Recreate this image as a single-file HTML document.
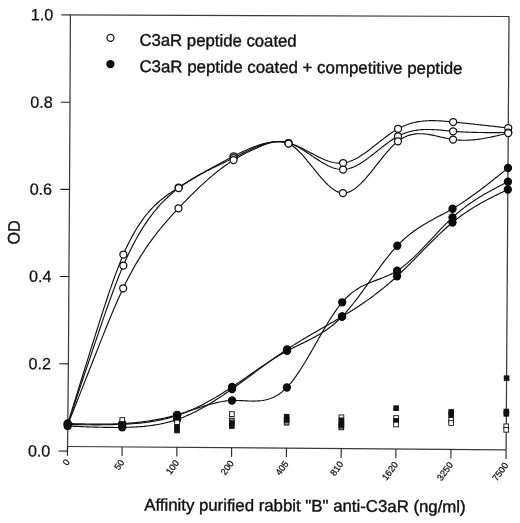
<!DOCTYPE html>
<html lang="en"><head><meta charset="utf-8"><title>OD vs affinity purified rabbit B anti-C3aR</title>
<style>html,body{margin:0;padding:0;background:#fff}body{width:520px;height:523px;overflow:hidden}</style></head>
<body>
<svg width="520" height="523" viewBox="0 0 520 523" style="display:block">
<rect width="520" height="523" fill="#fff"/>
<g id="axes">
<line x1="61.40" y1="14.87" x2="509.00" y2="16.50" stroke="#3a3a3a" stroke-width="1.25"/>
<polyline points="70.40,14.90 70.00,102.30 69.50,189.40 68.90,276.50 68.40,363.85 67.50,451.10" fill="none" stroke="#3a3a3a" stroke-width="1.25"/>
<line x1="509.00" y1="16.50" x2="506.10" y2="449.80" stroke="#3a3a3a" stroke-width="1.25"/>
<line x1="67.50" y1="446.50" x2="506.10" y2="449.80" stroke="#3a3a3a" stroke-width="1.25"/>
<line x1="60.80" y1="102.26" x2="70.00" y2="102.30" stroke="#222" stroke-width="1.1"/>
<line x1="60.30" y1="189.36" x2="69.50" y2="189.40" stroke="#222" stroke-width="1.1"/>
<line x1="59.70" y1="276.46" x2="68.90" y2="276.50" stroke="#222" stroke-width="1.1"/>
<line x1="59.20" y1="363.81" x2="68.40" y2="363.85" stroke="#222" stroke-width="1.1"/>
<line x1="58.30" y1="451.06" x2="67.50" y2="451.10" stroke="#222" stroke-width="1.1"/>
<line x1="67.50" y1="446.50" x2="67.44" y2="455.70" stroke="#222" stroke-width="1.1"/>
<line x1="122.10" y1="446.91" x2="122.04" y2="456.11" stroke="#222" stroke-width="1.1"/>
<line x1="176.90" y1="447.32" x2="176.84" y2="456.52" stroke="#222" stroke-width="1.1"/>
<line x1="231.65" y1="447.74" x2="231.59" y2="456.94" stroke="#222" stroke-width="1.1"/>
<line x1="286.45" y1="448.15" x2="286.39" y2="457.35" stroke="#222" stroke-width="1.1"/>
<line x1="341.20" y1="448.56" x2="341.14" y2="457.76" stroke="#222" stroke-width="1.1"/>
<line x1="395.90" y1="448.98" x2="395.84" y2="458.18" stroke="#222" stroke-width="1.1"/>
<line x1="450.95" y1="449.39" x2="450.89" y2="458.59" stroke="#222" stroke-width="1.1"/>
<line x1="506.10" y1="449.80" x2="506.04" y2="459.00" stroke="#222" stroke-width="1.1"/>
</g>
<g id="labels" style="font-family:'Liberation Sans',sans-serif">
<text x="53.20" y="20.40" font-size="16.3" text-anchor="end" fill="#111" stroke="#111" stroke-width="0.25" transform="rotate(0.35 53.20 20.40)" textLength="22.4" lengthAdjust="spacingAndGlyphs">1.0</text>
<text x="52.62" y="107.80" font-size="16.3" text-anchor="end" fill="#111" stroke="#111" stroke-width="0.25" transform="rotate(0.35 52.62 107.80)" textLength="22.4" lengthAdjust="spacingAndGlyphs">0.8</text>
<text x="52.03" y="194.90" font-size="16.3" text-anchor="end" fill="#111" stroke="#111" stroke-width="0.25" transform="rotate(0.35 52.03 194.90)" textLength="22.4" lengthAdjust="spacingAndGlyphs">0.6</text>
<text x="51.45" y="282.00" font-size="16.3" text-anchor="end" fill="#111" stroke="#111" stroke-width="0.25" transform="rotate(0.35 51.45 282.00)" textLength="22.4" lengthAdjust="spacingAndGlyphs">0.4</text>
<text x="50.86" y="369.35" font-size="16.3" text-anchor="end" fill="#111" stroke="#111" stroke-width="0.25" transform="rotate(0.35 50.86 369.35)" textLength="22.4" lengthAdjust="spacingAndGlyphs">0.2</text>
<text x="50.28" y="456.60" font-size="16.3" text-anchor="end" fill="#111" stroke="#111" stroke-width="0.25" transform="rotate(0.35 50.28 456.60)" textLength="22.4" lengthAdjust="spacingAndGlyphs">0.0</text>
<text x="70.20" y="462.10" font-size="9.2" text-anchor="end" fill="#111" stroke="#111" stroke-width="0.25" transform="rotate(-53.65 70.20 462.10)">0</text>
<text x="124.80" y="462.51" font-size="9.2" text-anchor="end" fill="#111" stroke="#111" stroke-width="0.25" transform="rotate(-53.65 124.80 462.51)">50</text>
<text x="179.60" y="462.93" font-size="9.2" text-anchor="end" fill="#111" stroke="#111" stroke-width="0.25" transform="rotate(-53.65 179.60 462.93)">100</text>
<text x="234.35" y="463.34" font-size="9.2" text-anchor="end" fill="#111" stroke="#111" stroke-width="0.25" transform="rotate(-53.65 234.35 463.34)">200</text>
<text x="289.15" y="463.75" font-size="9.2" text-anchor="end" fill="#111" stroke="#111" stroke-width="0.25" transform="rotate(-53.65 289.15 463.75)">405</text>
<text x="343.90" y="464.16" font-size="9.2" text-anchor="end" fill="#111" stroke="#111" stroke-width="0.25" transform="rotate(-53.65 343.90 464.16)">810</text>
<text x="398.60" y="464.58" font-size="9.2" text-anchor="end" fill="#111" stroke="#111" stroke-width="0.25" transform="rotate(-53.65 398.60 464.58)">1620</text>
<text x="453.65" y="464.99" font-size="9.2" text-anchor="end" fill="#111" stroke="#111" stroke-width="0.25" transform="rotate(-53.65 453.65 464.99)">3250</text>
<text x="508.80" y="465.40" font-size="9.2" text-anchor="end" fill="#111" stroke="#111" stroke-width="0.25" transform="rotate(-53.65 508.80 465.40)">7500</text>
<text x="139.40" y="45.70" font-size="16.8" text-anchor="start" fill="#111" stroke="#111" stroke-width="0.4" transform="rotate(0.35 139.40 45.70)" textLength="157.3" lengthAdjust="spacingAndGlyphs">C3aR peptide coated</text>
<text x="139.40" y="72.00" font-size="16.8" text-anchor="start" fill="#111" stroke="#111" stroke-width="0.4" transform="rotate(0.35 139.40 72.00)" textLength="323.1" lengthAdjust="spacingAndGlyphs">C3aR peptide coated + competitive peptide</text>
<text x="144.20" y="510.40" font-size="16.8" text-anchor="start" fill="#111" stroke="#111" stroke-width="0.4" transform="rotate(0.35 144.20 510.40)" textLength="321.5" lengthAdjust="spacingAndGlyphs">Affinity purified rabbit &quot;B&quot; anti-C3aR (ng/ml)</text>
<text x="19.60" y="244.60" font-size="16.8" text-anchor="start" fill="#111" stroke="#111" stroke-width="0.4" transform="rotate(-89.65 19.60 244.60)" textLength="24.2" lengthAdjust="spacingAndGlyphs">OD</text>
</g>
<g id="curves">
<polyline points="67.65,424.00 69.05,419.49 70.44,414.99 71.84,410.48 73.23,405.98 74.63,401.47 76.02,396.97 77.42,392.47 78.81,387.98 80.21,383.49 81.60,379.00 83.00,374.51 84.40,370.03 85.79,365.56 87.19,361.09 88.58,356.62 89.97,352.17 91.37,347.71 92.76,343.27 94.16,338.83 95.55,334.40 96.95,329.98 98.34,325.57 99.73,321.18 101.13,316.82 102.52,312.48 103.91,308.18 105.31,303.91 106.70,299.70 108.09,295.53 109.49,291.42 110.88,287.37 112.27,283.38 113.66,279.47 115.05,275.63 116.44,271.87 117.83,268.20 119.22,264.63 120.61,261.15 122.00,257.77 123.39,254.50 124.78,251.34 126.17,248.30 127.55,245.36 128.94,242.52 130.33,239.79 131.71,237.16 133.10,234.63 134.48,232.18 135.87,229.83 137.25,227.57 138.64,225.40 140.02,223.31 141.40,221.30 142.79,219.36 144.17,217.51 145.55,215.72 146.93,214.00 148.32,212.36 149.70,210.77 151.08,209.25 152.46,207.78 153.84,206.37 155.22,205.02 156.60,203.71 157.98,202.46 159.36,201.25 160.74,200.08 162.11,198.95 163.49,197.85 164.87,196.80 166.25,195.77 167.63,194.77 169.00,193.80 170.38,192.85 171.76,191.92 173.14,191.01 174.51,190.12 175.89,189.24 177.26,188.37 178.64,187.50 180.02,186.64 181.39,185.78 182.77,184.93 184.14,184.08 185.52,183.24 186.89,182.40 188.27,181.57 189.64,180.73 191.02,179.91 192.39,179.09 193.77,178.27 195.14,177.45 196.52,176.64 197.89,175.84 199.26,175.03 200.64,174.24 202.01,173.44 203.39,172.65 204.76,171.87 206.13,171.08 207.51,170.31 208.88,169.53 210.25,168.76 211.63,168.00 213.00,167.23 214.37,166.47 215.75,165.72 217.12,164.97 218.49,164.22 219.87,163.48 221.24,162.74 222.61,162.00 223.99,161.27 225.36,160.54 226.73,159.82 228.11,159.10 229.48,158.38 230.86,157.67 232.23,156.96 233.60,156.25 234.98,155.55 236.35,154.85 237.72,154.16 239.10,153.47 240.47,152.80 241.85,152.13 243.22,151.47 244.59,150.83 245.97,150.19 247.34,149.57 248.72,148.97 250.09,148.38 251.46,147.81 252.84,147.26 254.21,146.72 255.59,146.21 256.96,145.72 258.33,145.25 259.71,144.81 261.08,144.39 262.45,143.99 263.82,143.63 265.20,143.29 266.57,142.98 267.94,142.70 269.31,142.46 270.69,142.25 272.06,142.07 273.43,141.93 274.80,141.82 276.17,141.75 277.54,141.72 278.91,141.73 280.28,141.78 281.65,141.87 283.02,142.01 284.39,142.18 285.76,142.41 287.13,142.68 288.49,143.00 289.86,143.37 291.23,143.78 292.60,144.24 293.96,144.73 295.33,145.26 296.70,145.83 298.06,146.42 299.43,147.05 300.79,147.69 302.16,148.36 303.52,149.05 304.89,149.75 306.25,150.46 307.62,151.18 308.98,151.91 310.35,152.64 311.71,153.37 313.07,154.10 314.44,154.82 315.80,155.53 317.17,156.23 318.53,156.91 319.90,157.57 321.26,158.21 322.63,158.83 323.99,159.42 325.35,159.98 326.72,160.50 328.08,160.99 329.45,161.43 330.81,161.83 332.18,162.19 333.55,162.50 334.91,162.75 336.28,162.95 337.64,163.09 339.01,163.17 340.38,163.18 341.75,163.13 343.11,163.00 344.48,162.80 345.85,162.53 347.22,162.19 348.59,161.79 349.96,161.32 351.33,160.80 352.70,160.22 354.07,159.58 355.44,158.90 356.81,158.16 358.18,157.39 359.55,156.57 360.93,155.71 362.30,154.82 363.67,153.89 365.04,152.94 366.42,151.95 367.79,150.95 369.16,149.92 370.54,148.88 371.91,147.82 373.28,146.74 374.66,145.66 376.03,144.57 377.41,143.48 378.78,142.39 380.16,141.30 381.53,140.22 382.91,139.15 384.28,138.09 385.66,137.04 387.04,136.01 388.41,135.00 389.79,134.01 391.16,133.05 392.54,132.12 393.92,131.22 395.29,130.36 396.67,129.53 398.05,128.75 399.42,128.01 400.80,127.31 402.18,126.66 403.55,126.04 404.93,125.47 406.31,124.93 407.68,124.43 409.06,123.97 410.44,123.54 411.81,123.15 413.19,122.79 414.57,122.46 415.95,122.17 417.32,121.90 418.70,121.66 420.08,121.45 421.46,121.27 422.83,121.11 424.21,120.98 425.59,120.87 426.97,120.79 428.34,120.72 429.72,120.68 431.10,120.66 432.48,120.65 433.85,120.66 435.23,120.69 436.61,120.73 437.99,120.78 439.37,120.85 440.74,120.93 442.12,121.02 443.50,121.12 444.88,121.23 446.25,121.35 447.63,121.47 449.01,121.60 450.39,121.73 451.77,121.86 453.14,122.00 454.52,122.14 455.90,122.28 457.28,122.42 458.65,122.56 460.03,122.70 461.41,122.84 462.79,122.98 464.17,123.13 465.54,123.27 466.92,123.42 468.30,123.56 469.68,123.71 471.06,123.86 472.43,124.01 473.81,124.15 475.19,124.30 476.57,124.45 477.94,124.60 479.32,124.75 480.70,124.91 482.08,125.06 483.46,125.21 484.83,125.36 486.21,125.52 487.59,125.67 488.97,125.82 490.34,125.98 491.72,126.13 493.10,126.29 494.48,126.44 495.86,126.60 497.23,126.75 498.61,126.91 499.99,127.06 501.37,127.22 502.74,127.38 504.12,127.53 505.50,127.69 506.88,127.84 508.26,128.00" fill="none" stroke="#111" stroke-width="1.15" stroke-linejoin="round"/>
<polyline points="67.65,424.50 69.04,420.34 70.43,416.18 71.83,412.02 73.22,407.86 74.61,403.71 76.01,399.55 77.40,395.39 78.79,391.24 80.19,387.09 81.58,382.94 82.97,378.79 84.36,374.65 85.76,370.50 87.15,366.36 88.54,362.23 89.93,358.09 91.33,353.96 92.72,349.84 94.11,345.72 95.50,341.60 96.90,337.49 98.29,333.38 99.68,329.29 101.07,325.22 102.46,321.16 103.85,317.13 105.25,313.13 106.64,309.16 108.03,305.23 109.42,301.33 110.81,297.49 112.20,293.69 113.59,289.94 114.98,286.25 116.37,282.61 117.76,279.05 119.15,275.55 120.54,272.12 121.93,268.77 123.32,265.50 124.70,262.31 126.09,259.21 127.48,256.18 128.87,253.24 130.25,250.38 131.64,247.59 133.03,244.87 134.42,242.23 135.80,239.67 137.19,237.17 138.57,234.75 139.96,232.39 141.34,230.10 142.73,227.87 144.11,225.71 145.50,223.60 146.88,221.56 148.27,219.58 149.65,217.66 151.03,215.79 152.42,213.98 153.80,212.22 155.18,210.51 156.56,208.86 157.95,207.25 159.33,205.69 160.71,204.17 162.09,202.70 163.47,201.28 164.85,199.89 166.23,198.55 167.61,197.24 168.99,195.97 170.37,194.74 171.75,193.54 173.13,192.37 174.50,191.23 175.88,190.13 177.26,189.05 178.64,188.00 180.01,186.98 181.39,185.97 182.77,185.00 184.14,184.04 185.52,183.11 186.89,182.20 188.27,181.31 189.65,180.44 191.02,179.59 192.39,178.76 193.77,177.94 195.14,177.14 196.52,176.36 197.89,175.59 199.27,174.83 200.64,174.09 202.01,173.36 203.39,172.64 204.76,171.93 206.13,171.23 207.50,170.54 208.88,169.86 210.25,169.18 211.62,168.51 213.00,167.85 214.37,167.19 215.74,166.54 217.11,165.89 218.49,165.24 219.86,164.59 221.23,163.94 222.61,163.29 223.98,162.64 225.35,161.99 226.72,161.34 228.10,160.68 229.47,160.02 230.84,159.35 232.22,158.68 233.59,158.00 234.96,157.31 236.34,156.62 237.71,155.92 239.09,155.22 240.46,154.52 241.84,153.82 243.21,153.12 244.58,152.43 245.96,151.75 247.33,151.07 248.71,150.40 250.08,149.74 251.46,149.10 252.83,148.47 254.20,147.85 255.58,147.26 256.95,146.68 258.33,146.13 259.70,145.60 261.07,145.10 262.45,144.62 263.82,144.17 265.19,143.75 266.57,143.37 267.94,143.02 269.31,142.70 270.68,142.42 272.06,142.18 273.43,141.98 274.80,141.83 276.17,141.72 277.54,141.65 278.91,141.63 280.28,141.67 281.65,141.75 283.02,141.89 284.39,142.08 285.76,142.33 287.13,142.63 288.49,143.00 289.86,143.43 291.23,143.91 292.60,144.45 293.96,145.04 295.33,145.68 296.69,146.36 298.06,147.08 299.42,147.84 300.79,148.63 302.15,149.45 303.51,150.30 304.88,151.16 306.24,152.05 307.61,152.95 308.97,153.86 310.33,154.78 311.70,155.70 313.06,156.62 314.42,157.53 315.78,158.44 317.15,159.34 318.51,160.23 319.87,161.09 321.24,161.94 322.60,162.76 323.96,163.55 325.33,164.30 326.69,165.02 328.05,165.70 329.42,166.34 330.78,166.93 332.14,167.47 333.51,167.95 334.87,168.38 336.24,168.74 337.60,169.04 338.97,169.27 340.34,169.42 341.70,169.50 343.07,169.50 344.44,169.42 345.80,169.25 347.17,169.01 348.54,168.70 349.91,168.31 351.28,167.86 352.65,167.35 354.02,166.77 355.39,166.14 356.76,165.45 358.13,164.71 359.50,163.93 360.88,163.10 362.25,162.23 363.62,161.32 364.99,160.38 366.37,159.41 367.74,158.41 369.11,157.39 370.49,156.34 371.86,155.28 373.23,154.21 374.61,153.12 375.98,152.03 377.36,150.93 378.73,149.84 380.11,148.74 381.48,147.65 382.86,146.57 384.23,145.51 385.61,144.45 386.99,143.42 388.36,142.41 389.74,141.43 391.11,140.47 392.49,139.55 393.87,138.66 395.24,137.82 396.62,137.01 398.00,136.25 399.37,135.54 400.75,134.87 402.12,134.26 403.50,133.68 404.88,133.15 406.25,132.67 407.63,132.22 409.01,131.81 410.38,131.44 411.76,131.11 413.14,130.81 414.51,130.55 415.89,130.32 417.27,130.12 418.65,129.95 420.02,129.80 421.40,129.69 422.78,129.60 424.15,129.53 425.53,129.49 426.91,129.47 428.28,129.46 429.66,129.48 431.04,129.51 432.42,129.56 433.79,129.63 435.17,129.70 436.55,129.79 437.93,129.89 439.30,130.00 440.68,130.11 442.06,130.23 443.44,130.36 444.81,130.49 446.19,130.62 447.57,130.75 448.95,130.88 450.33,131.01 451.70,131.13 453.08,131.25 454.46,131.36 455.84,131.47 457.22,131.57 458.59,131.67 459.97,131.76 461.35,131.84 462.73,131.92 464.11,131.99 465.49,132.06 466.86,132.12 468.24,132.18 469.62,132.23 471.00,132.28 472.38,132.33 473.76,132.37 475.13,132.40 476.51,132.44 477.89,132.47 479.27,132.49 480.65,132.51 482.03,132.53 483.41,132.55 484.79,132.56 486.16,132.57 487.54,132.58 488.92,132.59 490.30,132.59 491.68,132.59 493.06,132.59 494.44,132.59 495.82,132.58 497.19,132.58 498.57,132.57 499.95,132.56 501.33,132.55 502.71,132.54 504.09,132.53 505.47,132.52 506.85,132.51 508.23,132.50" fill="none" stroke="#111" stroke-width="1.15" stroke-linejoin="round"/>
<polyline points="67.64,425.00 69.03,421.49 70.42,417.98 71.81,414.47 73.20,410.96 74.59,407.45 75.98,403.94 77.37,400.42 78.75,396.91 80.14,393.40 81.53,389.89 82.92,386.37 84.31,382.86 85.70,379.34 87.09,375.82 88.47,372.31 89.86,368.79 91.25,365.27 92.64,361.75 94.03,358.22 95.42,354.70 96.80,351.18 98.19,347.65 99.58,344.13 100.97,340.62 102.36,337.13 103.74,333.64 105.13,330.18 106.52,326.73 107.91,323.31 109.29,319.92 110.68,316.56 112.07,313.24 113.46,309.95 114.84,306.70 116.23,303.49 117.62,300.34 119.00,297.23 120.39,294.18 121.78,291.18 123.16,288.25 124.55,285.38 125.94,282.57 127.32,279.82 128.71,277.13 130.09,274.50 131.48,271.92 132.86,269.40 134.25,266.94 135.64,264.52 137.02,262.16 138.41,259.85 139.79,257.59 141.18,255.37 142.56,253.20 143.94,251.07 145.33,248.99 146.71,246.94 148.10,244.94 149.48,242.98 150.86,241.05 152.25,239.16 153.63,237.30 155.01,235.48 156.40,233.69 157.78,231.93 159.16,230.20 160.55,228.50 161.93,226.82 163.31,225.17 164.69,223.54 166.07,221.93 167.46,220.35 168.84,218.78 170.22,217.23 171.60,215.70 172.98,214.19 174.36,212.69 175.74,211.20 177.12,209.72 178.50,208.25 179.88,206.79 181.26,205.34 182.64,203.90 184.02,202.47 185.40,201.04 186.78,199.63 188.16,198.23 189.53,196.84 190.91,195.46 192.29,194.09 193.67,192.73 195.05,191.39 196.42,190.06 197.80,188.74 199.18,187.43 200.56,186.14 201.93,184.86 203.31,183.59 204.69,182.34 206.06,181.10 207.44,179.88 208.82,178.68 210.19,177.49 211.57,176.32 212.94,175.16 214.32,174.02 215.70,172.89 217.07,171.79 218.45,170.70 219.82,169.63 221.20,168.58 222.58,167.55 223.95,166.53 225.33,165.54 226.70,164.56 228.08,163.61 229.45,162.68 230.83,161.76 232.20,160.87 233.58,160.00 234.95,159.15 236.33,158.32 237.70,157.52 239.08,156.73 240.45,155.96 241.83,155.21 243.20,154.47 244.58,153.75 245.95,153.05 247.33,152.36 248.70,151.69 250.08,151.03 251.45,150.38 252.83,149.74 254.20,149.12 255.58,148.50 256.95,147.90 258.32,147.30 259.70,146.71 261.07,146.14 262.45,145.57 263.82,145.03 265.19,144.52 266.57,144.03 267.94,143.57 269.31,143.15 270.69,142.77 272.06,142.43 273.43,142.14 274.80,141.90 276.17,141.72 277.54,141.60 278.91,141.54 280.28,141.56 281.65,141.65 283.02,141.82 284.39,142.09 285.76,142.45 287.13,142.92 288.49,143.50 289.86,144.20 291.22,145.01 292.58,145.92 293.95,146.93 295.31,148.04 296.67,149.23 298.03,150.49 299.39,151.83 300.75,153.24 302.11,154.70 303.47,156.22 304.83,157.78 306.19,159.38 307.55,161.02 308.91,162.67 310.27,164.35 311.62,166.04 312.98,167.74 314.34,169.43 315.70,171.12 317.06,172.79 318.41,174.44 319.77,176.06 321.13,177.65 322.49,179.20 323.85,180.70 325.21,182.15 326.56,183.53 327.92,184.85 329.28,186.10 330.64,187.26 332.00,188.33 333.37,189.32 334.73,190.20 336.09,190.97 337.45,191.63 338.82,192.17 340.18,192.58 341.55,192.86 342.91,193.00 344.28,192.99 345.65,192.84 347.02,192.56 348.38,192.15 349.75,191.61 351.13,190.96 352.50,190.19 353.87,189.32 355.24,188.35 356.62,187.29 357.99,186.13 359.36,184.90 360.74,183.59 362.11,182.21 363.49,180.77 364.87,179.27 366.24,177.71 367.62,176.11 369.00,174.47 370.38,172.80 371.75,171.09 373.13,169.37 374.51,167.63 375.89,165.87 377.27,164.12 378.65,162.36 380.03,160.61 381.41,158.88 382.79,157.16 384.17,155.47 385.55,153.81 386.93,152.19 388.31,150.61 389.69,149.08 391.07,147.60 392.45,146.19 393.82,144.84 395.20,143.56 396.58,142.36 397.96,141.25 399.34,140.23 400.72,139.29 402.10,138.44 403.47,137.67 404.85,136.97 406.23,136.36 407.61,135.81 408.98,135.34 410.36,134.93 411.74,134.59 413.11,134.31 414.49,134.09 415.87,133.92 417.24,133.80 418.62,133.74 420.00,133.71 421.37,133.74 422.75,133.80 424.12,133.90 425.50,134.04 426.88,134.21 428.25,134.40 429.63,134.62 431.00,134.87 432.38,135.13 433.76,135.42 435.13,135.71 436.51,136.02 437.88,136.33 439.26,136.65 440.64,136.98 442.01,137.30 443.39,137.62 444.76,137.93 446.14,138.23 447.52,138.52 448.89,138.80 450.27,139.05 451.65,139.29 453.03,139.50 454.40,139.68 455.78,139.84 457.16,139.98 458.54,140.08 459.92,140.17 461.29,140.23 462.67,140.26 464.05,140.28 465.43,140.27 466.81,140.24 468.19,140.19 469.57,140.13 470.95,140.04 472.33,139.93 473.71,139.81 475.09,139.67 476.47,139.51 477.85,139.34 479.23,139.16 480.61,138.96 481.99,138.74 483.37,138.51 484.75,138.28 486.13,138.02 487.51,137.76 488.89,137.49 490.27,137.21 491.65,136.92 493.03,136.62 494.41,136.32 495.79,136.00 497.17,135.69 498.55,135.36 499.94,135.03 501.32,134.70 502.70,134.36 504.08,134.03 505.46,133.68 506.84,133.34 508.22,133.00" fill="none" stroke="#111" stroke-width="1.15" stroke-linejoin="round"/>
<polyline points="67.65,423.50 69.02,423.54 70.38,423.58 71.74,423.62 73.11,423.66 74.47,423.70 75.83,423.74 77.20,423.77 78.56,423.81 79.92,423.84 81.29,423.88 82.65,423.91 84.02,423.94 85.38,423.97 86.74,424.00 88.11,424.02 89.47,424.05 90.84,424.07 92.20,424.09 93.56,424.10 94.93,424.12 96.29,424.13 97.66,424.13 99.02,424.14 100.39,424.14 101.75,424.14 103.12,424.13 104.49,424.12 105.85,424.11 107.22,424.09 108.58,424.07 109.95,424.04 111.32,424.01 112.68,423.98 114.05,423.94 115.42,423.90 116.78,423.85 118.15,423.79 119.52,423.73 120.89,423.67 122.26,423.60 123.62,423.52 124.99,423.44 126.36,423.36 127.73,423.26 129.10,423.16 130.47,423.06 131.84,422.94 133.21,422.82 134.58,422.70 135.95,422.57 137.32,422.43 138.69,422.28 140.07,422.13 141.44,421.97 142.81,421.80 144.18,421.62 145.55,421.44 146.92,421.25 148.29,421.05 149.67,420.84 151.04,420.62 152.41,420.40 153.78,420.17 155.16,419.93 156.53,419.68 157.90,419.42 159.27,419.15 160.65,418.87 162.02,418.59 163.39,418.29 164.76,417.99 166.14,417.67 167.51,417.35 168.88,417.02 170.25,416.67 171.63,416.32 173.00,415.96 174.37,415.58 175.75,415.20 177.12,414.80 178.49,414.39 179.86,413.98 181.24,413.55 182.61,413.12 183.98,412.68 185.35,412.24 186.72,411.79 188.10,411.33 189.47,410.87 190.84,410.42 192.21,409.95 193.58,409.49 194.96,409.04 196.33,408.58 197.70,408.12 199.07,407.67 200.44,407.23 201.81,406.78 203.19,406.35 204.56,405.92 205.93,405.51 207.30,405.10 208.67,404.70 210.04,404.32 211.41,403.94 212.78,403.58 214.15,403.24 215.53,402.91 216.90,402.59 218.27,402.30 219.64,402.02 221.01,401.76 222.38,401.52 223.75,401.30 225.12,401.11 226.49,400.94 227.86,400.79 229.23,400.67 230.60,400.57 231.97,400.50 233.34,400.46 234.71,400.44 236.07,400.44 237.44,400.47 238.81,400.51 240.18,400.56 241.55,400.62 242.92,400.68 244.29,400.75 245.66,400.82 247.03,400.89 248.40,400.95 249.77,401.00 251.14,401.04 252.51,401.06 253.88,401.07 255.25,401.05 256.62,401.01 257.99,400.94 259.36,400.84 260.73,400.70 262.10,400.53 263.48,400.32 264.85,400.06 266.22,399.76 267.59,399.40 268.97,399.00 270.34,398.54 271.71,398.01 273.09,397.43 274.46,396.78 275.84,396.07 277.21,395.28 278.59,394.42 279.97,393.48 281.34,392.45 282.72,391.35 284.10,390.16 285.48,388.88 286.86,387.50 288.24,386.03 289.62,384.47 291.00,382.82 292.38,381.09 293.76,379.28 295.14,377.39 296.53,375.44 297.91,373.42 299.29,371.35 300.68,369.21 302.06,367.03 303.45,364.80 304.83,362.53 306.22,360.23 307.60,357.89 308.99,355.52 310.37,353.13 311.76,350.72 313.14,348.30 314.53,345.87 315.91,343.43 317.30,340.99 318.68,338.56 320.07,336.14 321.45,333.73 322.84,331.33 324.22,328.96 325.61,326.62 326.99,324.31 328.37,322.04 329.76,319.80 331.14,317.62 332.52,315.48 333.90,313.40 335.28,311.37 336.66,309.41 338.04,307.52 339.42,305.70 340.80,303.96 342.18,302.30 343.56,300.73 344.93,299.24 346.31,297.83 347.69,296.49 349.06,295.23 350.43,294.04 351.81,292.91 353.18,291.85 354.55,290.85 355.93,289.90 357.30,289.01 358.67,288.16 360.04,287.37 361.41,286.61 362.79,285.89 364.16,285.21 365.53,284.56 366.90,283.94 368.27,283.35 369.64,282.78 371.01,282.22 372.38,281.68 373.75,281.16 375.12,280.64 376.49,280.13 377.86,279.62 379.23,279.10 380.61,278.59 381.98,278.06 383.35,277.52 384.72,276.97 386.09,276.40 387.47,275.81 388.84,275.19 390.22,274.54 391.59,273.86 392.97,273.14 394.34,272.39 395.72,271.59 397.09,270.75 398.47,269.86 399.85,268.92 401.23,267.94 402.61,266.91 403.99,265.84 405.37,264.73 406.75,263.59 408.13,262.41 409.52,261.19 410.90,259.95 412.28,258.67 413.67,257.37 415.05,256.04 416.43,254.69 417.82,253.31 419.20,251.92 420.59,250.50 421.98,249.07 423.36,247.63 424.75,246.17 426.14,244.71 427.52,243.23 428.91,241.75 430.30,240.27 431.69,238.78 433.07,237.29 434.46,235.81 435.85,234.32 437.24,232.85 438.62,231.38 440.01,229.91 441.40,228.46 442.79,227.03 444.18,225.61 445.57,224.20 446.95,222.81 448.34,221.45 449.73,220.11 451.12,218.79 452.50,217.50 453.89,216.24 455.28,215.00 456.66,213.80 458.05,212.62 459.44,211.46 460.82,210.33 462.21,209.23 463.60,208.15 464.98,207.09 466.37,206.05 467.75,205.04 469.14,204.04 470.52,203.07 471.91,202.11 473.29,201.18 474.68,200.26 476.06,199.36 477.45,198.48 478.83,197.61 480.22,196.75 481.60,195.92 482.99,195.09 484.37,194.28 485.76,193.48 487.14,192.69 488.52,191.91 489.91,191.14 491.29,190.39 492.68,189.64 494.06,188.89 495.44,188.16 496.83,187.43 498.21,186.71 499.59,185.99 500.98,185.28 502.36,184.57 503.75,183.86 505.13,183.16 506.51,182.45 507.90,181.75" fill="none" stroke="#111" stroke-width="1.15" stroke-linejoin="round"/>
<polyline points="67.65,424.50 69.01,424.52 70.37,424.55 71.74,424.57 73.10,424.59 74.46,424.61 75.83,424.63 77.19,424.65 78.56,424.67 79.92,424.69 81.28,424.71 82.65,424.73 84.01,424.74 85.37,424.76 86.74,424.77 88.10,424.78 89.47,424.79 90.83,424.80 92.20,424.81 93.56,424.81 94.92,424.82 96.29,424.82 97.65,424.82 99.02,424.81 100.38,424.81 101.75,424.80 103.12,424.79 104.48,424.77 105.85,424.76 107.21,424.74 108.58,424.71 109.95,424.69 111.31,424.66 112.68,424.63 114.05,424.59 115.41,424.55 116.78,424.51 118.15,424.46 119.52,424.41 120.88,424.36 122.25,424.30 123.62,424.24 124.99,424.17 126.36,424.10 127.73,424.02 129.10,423.94 130.47,423.85 131.84,423.76 133.21,423.66 134.58,423.55 135.95,423.44 137.32,423.32 138.69,423.19 140.06,423.06 141.43,422.92 142.80,422.77 144.17,422.61 145.54,422.44 146.92,422.26 148.29,422.07 149.66,421.88 151.03,421.67 152.40,421.46 153.78,421.23 155.15,420.99 156.52,420.74 157.89,420.48 159.27,420.21 160.64,419.93 162.01,419.64 163.38,419.33 164.76,419.01 166.13,418.67 167.50,418.33 168.88,417.97 170.25,417.59 171.62,417.20 172.99,416.80 174.37,416.38 175.74,415.95 177.11,415.50 178.49,415.04 179.86,414.56 181.23,414.06 182.60,413.55 183.98,413.03 185.35,412.49 186.72,411.94 188.10,411.37 189.47,410.79 190.84,410.19 192.22,409.58 193.59,408.96 194.96,408.33 196.33,407.68 197.71,407.02 199.08,406.35 200.45,405.66 201.83,404.96 203.20,404.25 204.57,403.53 205.95,402.80 207.32,402.06 208.69,401.30 210.07,400.54 211.44,399.76 212.81,398.98 214.19,398.18 215.56,397.37 216.94,396.56 218.31,395.73 219.68,394.90 221.06,394.05 222.43,393.20 223.81,392.34 225.18,391.47 226.56,390.59 227.93,389.70 229.31,388.81 230.68,387.91 232.06,387.00 233.43,386.08 234.81,385.16 236.18,384.23 237.56,383.30 238.93,382.36 240.31,381.42 241.69,380.47 243.06,379.52 244.44,378.57 245.82,377.61 247.19,376.65 248.57,375.70 249.94,374.74 251.32,373.78 252.70,372.83 254.07,371.87 255.45,370.92 256.83,369.97 258.20,369.02 259.58,368.08 260.96,367.14 262.33,366.21 263.71,365.28 265.09,364.36 266.46,363.44 267.84,362.53 269.22,361.63 270.59,360.74 271.97,359.86 273.34,358.98 274.72,358.12 276.10,357.27 277.47,356.43 278.85,355.60 280.22,354.78 281.60,353.97 282.98,353.18 284.35,352.41 285.73,351.65 287.10,350.90 288.48,350.17 289.85,349.45 291.23,348.75 292.60,348.06 293.98,347.37 295.35,346.70 296.72,346.03 298.10,345.36 299.47,344.70 300.85,344.04 302.22,343.37 303.60,342.71 304.97,342.04 306.34,341.37 307.72,340.69 309.09,340.00 310.46,339.30 311.84,338.58 313.21,337.86 314.59,337.12 315.96,336.36 317.33,335.58 318.71,334.78 320.08,333.96 321.46,333.12 322.83,332.25 324.21,331.35 325.58,330.43 326.96,329.47 328.33,328.49 329.70,327.47 331.08,326.41 332.45,325.32 333.83,324.19 335.21,323.02 336.58,321.80 337.96,320.55 339.33,319.25 340.71,317.90 342.08,316.50 343.46,315.05 344.84,313.56 346.21,312.02 347.59,310.44 348.97,308.82 350.35,307.16 351.72,305.46 353.10,303.74 354.48,301.98 355.86,300.19 357.24,298.38 358.62,296.54 359.99,294.69 361.37,292.81 362.75,290.93 364.13,289.02 365.51,287.11 366.89,285.19 368.27,283.26 369.65,281.33 371.03,279.40 372.41,277.46 373.79,275.54 375.17,273.62 376.55,271.70 377.93,269.80 379.31,267.92 380.69,266.05 382.07,264.19 383.45,262.36 384.83,260.56 386.21,258.77 387.59,257.02 388.97,255.30 390.36,253.61 391.74,251.96 393.12,250.34 394.50,248.77 395.88,247.24 397.26,245.75 398.64,244.31 400.02,242.92 401.41,241.57 402.79,240.27 404.17,239.01 405.55,237.79 406.93,236.60 408.31,235.46 409.70,234.34 411.08,233.27 412.46,232.22 413.84,231.21 415.22,230.22 416.60,229.26 417.99,228.33 419.37,227.42 420.75,226.54 422.13,225.67 423.52,224.83 424.90,224.00 426.28,223.19 427.66,222.39 429.04,221.61 430.43,220.84 431.81,220.07 433.19,219.32 434.58,218.57 435.96,217.83 437.34,217.09 438.73,216.36 440.11,215.62 441.49,214.88 442.88,214.14 444.26,213.40 445.64,212.65 447.03,211.89 448.41,211.12 449.79,210.34 451.18,209.55 452.56,208.75 453.95,207.93 455.33,207.10 456.72,206.25 458.10,205.38 459.48,204.51 460.87,203.61 462.25,202.71 463.64,201.79 465.02,200.86 466.41,199.92 467.79,198.97 469.18,198.00 470.57,197.03 471.95,196.04 473.34,195.05 474.72,194.04 476.11,193.02 477.49,192.00 478.88,190.97 480.26,189.93 481.65,188.88 483.04,187.82 484.42,186.76 485.81,185.69 487.19,184.62 488.58,183.53 489.97,182.45 491.35,181.36 492.74,180.26 494.12,179.16 495.51,178.05 496.90,176.94 498.28,175.83 499.67,174.72 501.06,173.60 502.44,172.48 503.83,171.37 505.22,170.24 506.60,169.12 507.99,168.00" fill="none" stroke="#111" stroke-width="1.15" stroke-linejoin="round"/>
<polyline points="67.64,426.00 69.00,426.06 70.36,426.12 71.73,426.19 73.09,426.25 74.45,426.31 75.82,426.37 77.18,426.43 78.54,426.49 79.91,426.55 81.27,426.60 82.63,426.66 84.00,426.72 85.36,426.77 86.72,426.82 88.09,426.88 89.45,426.92 90.82,426.97 92.18,427.02 93.55,427.06 94.91,427.11 96.27,427.15 97.64,427.19 99.00,427.22 100.37,427.26 101.73,427.29 103.10,427.32 104.46,427.34 105.83,427.37 107.20,427.39 108.56,427.41 109.93,427.42 111.29,427.43 112.66,427.44 114.03,427.45 115.39,427.45 116.76,427.45 118.13,427.44 119.49,427.43 120.86,427.42 122.23,427.40 123.60,427.38 124.97,427.35 126.34,427.32 127.71,427.29 129.07,427.25 130.44,427.20 131.81,427.14 133.18,427.08 134.55,427.02 135.92,426.94 137.29,426.86 138.66,426.77 140.03,426.67 141.41,426.56 142.78,426.45 144.15,426.32 145.52,426.19 146.89,426.04 148.26,425.88 149.63,425.72 151.01,425.54 152.38,425.35 153.75,425.14 155.12,424.93 156.49,424.70 157.87,424.46 159.24,424.20 160.61,423.94 161.98,423.65 163.36,423.36 164.73,423.04 166.10,422.72 167.48,422.37 168.85,422.01 170.22,421.64 171.59,421.24 172.97,420.84 174.34,420.41 175.71,419.96 177.09,419.50 178.46,419.02 179.83,418.52 181.21,418.00 182.58,417.46 183.95,416.91 185.32,416.34 186.70,415.76 188.07,415.15 189.44,414.53 190.82,413.90 192.19,413.25 193.56,412.58 194.94,411.90 196.31,411.20 197.68,410.50 199.06,409.77 200.43,409.03 201.80,408.28 203.18,407.52 204.55,406.74 205.93,405.95 207.30,405.15 208.67,404.34 210.05,403.51 211.42,402.68 212.80,401.83 214.17,400.97 215.54,400.11 216.92,399.23 218.29,398.34 219.67,397.44 221.04,396.54 222.42,395.62 223.79,394.70 225.17,393.77 226.54,392.83 227.92,391.88 229.29,390.93 230.67,389.97 232.04,389.00 233.42,388.03 234.80,387.05 236.17,386.06 237.55,385.07 238.92,384.07 240.30,383.07 241.68,382.07 243.05,381.06 244.43,380.05 245.81,379.04 247.18,378.02 248.56,377.01 249.94,375.99 251.31,374.97 252.69,373.94 254.07,372.92 255.44,371.90 256.82,370.88 258.20,369.86 259.57,368.84 260.95,367.82 262.33,366.80 263.71,365.79 265.08,364.78 266.46,363.77 267.84,362.77 269.21,361.77 270.59,360.77 271.97,359.78 273.35,358.79 274.72,357.81 276.10,356.84 277.48,355.87 278.85,354.91 280.23,353.95 281.61,353.01 282.98,352.07 284.36,351.14 285.74,350.21 287.11,349.30 288.49,348.40 289.86,347.50 291.24,346.61 292.62,345.74 293.99,344.87 295.37,344.00 296.74,343.15 298.12,342.30 299.49,341.46 300.87,340.62 302.24,339.80 303.62,338.97 305.00,338.15 306.37,337.34 307.74,336.53 309.12,335.72 310.49,334.92 311.87,334.12 313.24,333.32 314.62,332.53 315.99,331.74 317.37,330.95 318.74,330.16 320.11,329.37 321.49,328.58 322.86,327.79 324.24,327.01 325.61,326.22 326.98,325.43 328.36,324.64 329.73,323.85 331.10,323.06 332.48,322.26 333.85,321.46 335.22,320.66 336.59,319.86 337.97,319.05 339.34,318.24 340.71,317.42 342.08,316.60 343.46,315.77 344.83,314.94 346.20,314.10 347.57,313.26 348.95,312.41 350.32,311.55 351.69,310.68 353.06,309.81 354.43,308.93 355.81,308.05 357.18,307.15 358.55,306.25 359.92,305.33 361.30,304.41 362.67,303.48 364.04,302.54 365.41,301.59 366.79,300.62 368.16,299.65 369.53,298.67 370.91,297.67 372.28,296.67 373.65,295.65 375.03,294.62 376.40,293.58 377.78,292.52 379.15,291.45 380.53,290.37 381.90,289.28 383.28,288.17 384.65,287.05 386.03,285.91 387.41,284.76 388.79,283.59 390.16,282.41 391.54,281.21 392.92,279.99 394.30,278.76 395.68,277.51 397.06,276.25 398.44,274.97 399.82,273.67 401.20,272.36 402.58,271.03 403.96,269.69 405.35,268.34 406.73,266.98 408.11,265.60 409.49,264.22 410.88,262.83 412.26,261.44 413.65,260.03 415.03,258.62 416.42,257.21 417.80,255.80 419.19,254.38 420.57,252.97 421.96,251.55 423.35,250.13 424.73,248.72 426.12,247.31 427.50,245.90 428.89,244.50 430.28,243.11 431.67,241.72 433.05,240.34 434.44,238.97 435.83,237.62 437.21,236.27 438.60,234.93 439.99,233.61 441.38,232.31 442.76,231.02 444.15,229.74 445.54,228.48 446.92,227.25 448.31,226.03 449.70,224.83 451.08,223.65 452.47,222.50 453.86,221.37 455.24,220.26 456.63,219.18 458.01,218.12 459.40,217.08 460.79,216.06 462.17,215.06 463.56,214.08 464.94,213.11 466.33,212.17 467.71,211.25 469.10,210.34 470.48,209.45 471.87,208.57 473.25,207.71 474.64,206.87 476.02,206.04 477.40,205.22 478.79,204.42 480.17,203.62 481.56,202.85 482.94,202.08 484.32,201.32 485.71,200.57 487.09,199.83 488.48,199.10 489.86,198.38 491.24,197.67 492.63,196.96 494.01,196.27 495.39,195.57 496.78,194.88 498.16,194.20 499.54,193.52 500.93,192.85 502.31,192.17 503.69,191.50 505.08,190.83 506.46,190.17 507.84,189.50" fill="none" stroke="#111" stroke-width="1.15" stroke-linejoin="round"/>
</g>
<g id="filled">
<circle cx="67.65" cy="423.50" r="4.15" fill="#0a0a0a"/>
<circle cx="122.26" cy="423.60" r="4.15" fill="#0a0a0a"/>
<circle cx="177.12" cy="414.80" r="4.15" fill="#0a0a0a"/>
<circle cx="231.97" cy="400.50" r="4.15" fill="#0a0a0a"/>
<circle cx="286.86" cy="387.50" r="4.15" fill="#0a0a0a"/>
<circle cx="342.18" cy="302.30" r="4.15" fill="#0a0a0a"/>
<circle cx="397.09" cy="270.75" r="4.15" fill="#0a0a0a"/>
<circle cx="452.50" cy="217.50" r="4.15" fill="#0a0a0a"/>
<circle cx="507.90" cy="181.75" r="4.15" fill="#0a0a0a"/>
<circle cx="67.65" cy="424.50" r="4.15" fill="#0a0a0a"/>
<circle cx="122.25" cy="424.30" r="4.15" fill="#0a0a0a"/>
<circle cx="177.11" cy="415.50" r="4.15" fill="#0a0a0a"/>
<circle cx="232.06" cy="387.00" r="4.15" fill="#0a0a0a"/>
<circle cx="287.10" cy="350.90" r="4.15" fill="#0a0a0a"/>
<circle cx="342.08" cy="316.50" r="4.15" fill="#0a0a0a"/>
<circle cx="397.26" cy="245.75" r="4.15" fill="#0a0a0a"/>
<circle cx="452.56" cy="208.75" r="4.15" fill="#0a0a0a"/>
<circle cx="507.99" cy="168.00" r="4.15" fill="#0a0a0a"/>
<circle cx="67.64" cy="426.00" r="4.15" fill="#0a0a0a"/>
<circle cx="122.23" cy="427.40" r="4.15" fill="#0a0a0a"/>
<circle cx="177.09" cy="419.50" r="4.15" fill="#0a0a0a"/>
<circle cx="232.04" cy="389.00" r="4.15" fill="#0a0a0a"/>
<circle cx="287.11" cy="349.30" r="4.15" fill="#0a0a0a"/>
<circle cx="342.08" cy="316.60" r="4.15" fill="#0a0a0a"/>
<circle cx="397.06" cy="276.25" r="4.15" fill="#0a0a0a"/>
<circle cx="452.47" cy="222.50" r="4.15" fill="#0a0a0a"/>
<circle cx="507.84" cy="189.50" r="4.15" fill="#0a0a0a"/>
</g>
<g id="squares">
<rect x="65.30" y="422.15" width="4.7" height="4.7" fill="#111" stroke="#111" stroke-width="0.9"/>
<rect x="65.29" y="423.15" width="4.7" height="4.7" fill="#111" stroke="#111" stroke-width="0.9"/>
<rect x="119.93" y="417.65" width="4.7" height="4.7" fill="#fff" stroke="#111" stroke-width="0.9"/>
<rect x="119.90" y="421.65" width="4.7" height="4.7" fill="#111" stroke="#111" stroke-width="0.9"/>
<rect x="119.88" y="424.65" width="4.7" height="4.7" fill="#111" stroke="#111" stroke-width="0.9"/>
<rect x="174.72" y="420.15" width="4.7" height="4.7" fill="#fff" stroke="#111" stroke-width="0.9"/>
<rect x="174.69" y="424.65" width="4.7" height="4.7" fill="#111" stroke="#111" stroke-width="0.9"/>
<rect x="174.66" y="428.15" width="4.7" height="4.7" fill="#111" stroke="#111" stroke-width="0.9"/>
<rect x="229.53" y="411.75" width="4.7" height="4.7" fill="#fff" stroke="#111" stroke-width="0.9"/>
<rect x="229.48" y="418.15" width="4.7" height="4.7" fill="#888" stroke="#111" stroke-width="0.9"/>
<rect x="229.46" y="420.85" width="4.7" height="4.7" fill="#111" stroke="#111" stroke-width="0.9"/>
<rect x="229.45" y="423.65" width="4.7" height="4.7" fill="#111" stroke="#111" stroke-width="0.9"/>
<rect x="284.27" y="420.35" width="4.7" height="4.7" fill="#888" stroke="#111" stroke-width="0.9"/>
<rect x="284.31" y="414.35" width="4.7" height="4.7" fill="#111" stroke="#111" stroke-width="0.9"/>
<rect x="284.29" y="417.45" width="4.7" height="4.7" fill="#111" stroke="#111" stroke-width="0.9"/>
<rect x="339.06" y="414.95" width="4.7" height="4.7" fill="#fff" stroke="#111" stroke-width="0.9"/>
<rect x="338.99" y="425.05" width="4.7" height="4.7" fill="#888" stroke="#111" stroke-width="0.9"/>
<rect x="339.04" y="417.95" width="4.7" height="4.7" fill="#111" stroke="#111" stroke-width="0.9"/>
<rect x="339.02" y="420.95" width="4.7" height="4.7" fill="#111" stroke="#111" stroke-width="0.9"/>
<rect x="339.01" y="423.05" width="4.7" height="4.7" fill="#111" stroke="#111" stroke-width="0.9"/>
<rect x="393.82" y="405.85" width="4.7" height="4.7" fill="#111" stroke="#111" stroke-width="0.9"/>
<rect x="393.76" y="415.65" width="4.7" height="4.7" fill="#fff" stroke="#111" stroke-width="0.9"/>
<rect x="393.74" y="418.65" width="4.7" height="4.7" fill="#111" stroke="#111" stroke-width="0.9"/>
<rect x="393.71" y="422.15" width="4.7" height="4.7" fill="#fff" stroke="#111" stroke-width="0.9"/>
<rect x="448.85" y="409.65" width="4.7" height="4.7" fill="#111" stroke="#111" stroke-width="0.9"/>
<rect x="448.83" y="412.65" width="4.7" height="4.7" fill="#111" stroke="#111" stroke-width="0.9"/>
<rect x="448.80" y="417.65" width="4.7" height="4.7" fill="#fff" stroke="#111" stroke-width="0.9"/>
<rect x="448.78" y="420.65" width="4.7" height="4.7" fill="#fff" stroke="#111" stroke-width="0.9"/>
<rect x="504.23" y="375.85" width="4.7" height="4.7" fill="#111" stroke="#111" stroke-width="0.9"/>
<rect x="504.01" y="409.15" width="4.7" height="4.7" fill="#111" stroke="#111" stroke-width="0.9"/>
<rect x="503.99" y="411.45" width="4.7" height="4.7" fill="#111" stroke="#111" stroke-width="0.9"/>
<rect x="503.91" y="423.95" width="4.7" height="4.7" fill="#fff" stroke="#111" stroke-width="0.9"/>
<rect x="503.88" y="427.45" width="4.7" height="4.7" fill="#fff" stroke="#111" stroke-width="0.9"/>
</g>
<g id="open">
<circle cx="123.39" cy="254.50" r="3.5" fill="#fff" stroke="#111" stroke-width="1.25"/>
<circle cx="178.64" cy="187.50" r="3.5" fill="#fff" stroke="#111" stroke-width="1.25"/>
<circle cx="233.60" cy="156.25" r="3.5" fill="#fff" stroke="#111" stroke-width="1.25"/>
<circle cx="288.49" cy="143.00" r="3.5" fill="#fff" stroke="#111" stroke-width="1.25"/>
<circle cx="343.11" cy="163.00" r="3.5" fill="#fff" stroke="#111" stroke-width="1.25"/>
<circle cx="398.05" cy="128.75" r="3.5" fill="#fff" stroke="#111" stroke-width="1.25"/>
<circle cx="453.14" cy="122.00" r="3.5" fill="#fff" stroke="#111" stroke-width="1.25"/>
<circle cx="508.26" cy="128.00" r="3.5" fill="#fff" stroke="#111" stroke-width="1.25"/>
<circle cx="123.32" cy="265.50" r="3.5" fill="#fff" stroke="#111" stroke-width="1.25"/>
<circle cx="178.64" cy="188.00" r="3.5" fill="#fff" stroke="#111" stroke-width="1.25"/>
<circle cx="233.59" cy="158.00" r="3.5" fill="#fff" stroke="#111" stroke-width="1.25"/>
<circle cx="288.49" cy="143.00" r="3.5" fill="#fff" stroke="#111" stroke-width="1.25"/>
<circle cx="343.07" cy="169.50" r="3.5" fill="#fff" stroke="#111" stroke-width="1.25"/>
<circle cx="398.00" cy="136.25" r="3.5" fill="#fff" stroke="#111" stroke-width="1.25"/>
<circle cx="453.08" cy="131.25" r="3.5" fill="#fff" stroke="#111" stroke-width="1.25"/>
<circle cx="508.23" cy="132.50" r="3.5" fill="#fff" stroke="#111" stroke-width="1.25"/>
<circle cx="123.16" cy="288.25" r="3.5" fill="#fff" stroke="#111" stroke-width="1.25"/>
<circle cx="178.50" cy="208.25" r="3.5" fill="#fff" stroke="#111" stroke-width="1.25"/>
<circle cx="233.58" cy="160.00" r="3.5" fill="#fff" stroke="#111" stroke-width="1.25"/>
<circle cx="288.49" cy="143.50" r="3.5" fill="#fff" stroke="#111" stroke-width="1.25"/>
<circle cx="342.91" cy="193.00" r="3.5" fill="#fff" stroke="#111" stroke-width="1.25"/>
<circle cx="397.96" cy="141.25" r="3.5" fill="#fff" stroke="#111" stroke-width="1.25"/>
<circle cx="453.03" cy="139.50" r="3.5" fill="#fff" stroke="#111" stroke-width="1.25"/>
<circle cx="508.22" cy="133.00" r="3.5" fill="#fff" stroke="#111" stroke-width="1.25"/>
</g>
<circle cx="110.5" cy="37.8" r="3.5" fill="#fff" stroke="#111" stroke-width="1.25"/>
<circle cx="110.4" cy="64.1" r="4.15" fill="#0a0a0a"/>
</svg>
</body></html>
